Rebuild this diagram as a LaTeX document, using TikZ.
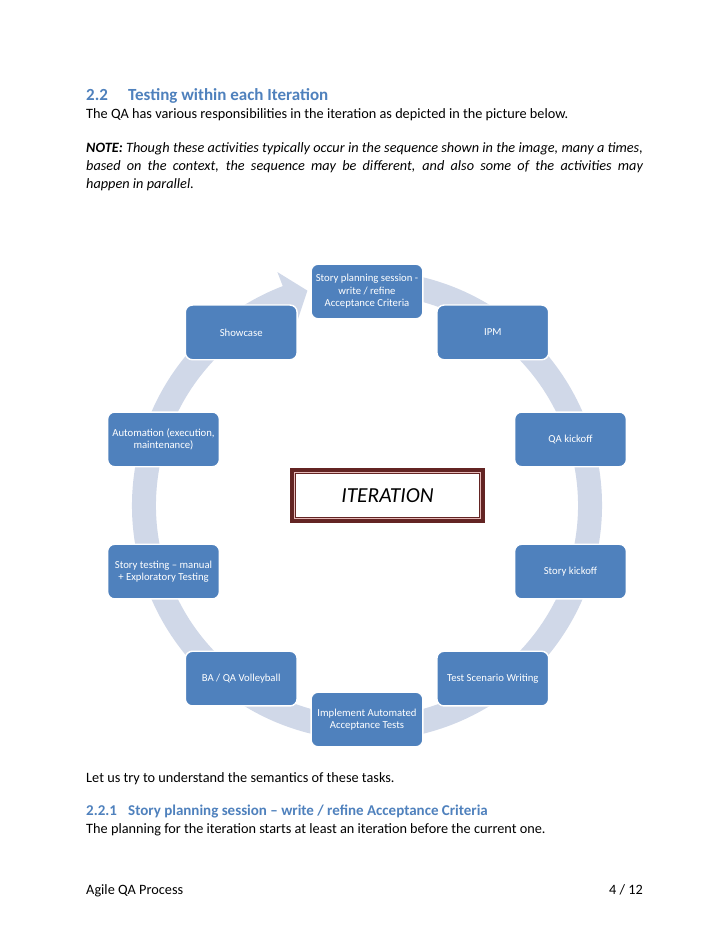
\documentclass[tikz,border=0pt]{standalone}
\usepackage{fontspec}
\setmainfont{Carlito}
\usepackage{xcolor}
\usepackage{tikz}
\definecolor{taskcolor}{HTML}{4F81BD}
\definecolor{ringcolor}{HTML}{D0D8E8}
\definecolor{headcolor}{HTML}{4F81BD}
\definecolor{iterdark}{HTML}{632423}
\definecolor{iterpink}{HTML}{E6B9B8}
\tikzset{task/.style={draw=white,line width=1.2pt,fill=taskcolor,rounded corners=6pt,minimum width=94pt,minimum height=46pt,inner sep=2pt,align=center,text=white,font=\fontsize{9}{10.5}\selectfont},itbox/.style={draw=iterdark,line width=.85pt,fill=white,minimum width=154.7pt,minimum height=37pt,inner sep=0pt,outer sep=0pt,font=\fontsize{18}{20}\selectfont\itshape},bodytext/.style={anchor=base west,inner sep=0pt,font=\fontsize{12}{15.1}\selectfont},headtext/.style={anchor=base west,inner sep=0pt,text=headcolor,font=\fontsize{14.3}{16}\selectfont\bfseries},subheadtext/.style={headtext,font=\fontsize{12.6}{14}\selectfont\bfseries}}

\begin{document}
\begin{tikzpicture}[x=.8407pt,y=.8407pt]
 \fill[white] (0,0) rectangle (728,943);

 \node[headtext] (h22) at (86,842) {\makebox[35.3pt][l]{2.2}Testing within each Iteration};
 \node[bodytext] (intro) at (86,824) {The QA has various responsibilities in the iteration as depicted in the picture below.};
 \node[bodytext,text width=468pt,align=justify] (note) at (86,790) {\textbf{\textit{NOTE:}} \textit{Though these activities typically occur in the sequence shown in the image, many a times,\linebreak based on the context, the sequence may be different, and also some of the activities may\linebreak happen in parallel.}};

 % continuous cycle arrow behind the tasks
 \begin{scope}[shift={(367,437.5)}]
  \fill[ringcolor] (80:235) arc[start angle=80,end angle=-249,radius=235] -- (111:250) -- (105.5:223) -- (111:196) -- (111:211) arc[start angle=111,end angle=440,radius=211] -- cycle;
 \end{scope}

 \node[task] (plan) at (367,651.5) {Story planning session -\\write / refine\\Acceptance Criteria};
 \node[task] (ipm) at (492.8,610.6) {IPM};
 \node[task] (qakick) at (570.5,503.6) {QA kickoff};
 \node[task] (storykick) at (570.5,371.4) {Story kickoff};
 \node[task] (scenario) at (492.8,264.4) {Test Scenario Writing};
 \node[task] (implement) at (367,223.5) {Implement Automated\\Acceptance Tests};
 \node[task] (volley) at (241.2,264.4) {BA / QA Volleyball};
 \node[task] (storytest) at (163.5,371.4) {Story testing – manual\\+ Exploratory Testing};
 \node[task] (automation) at (163.5,503.6) {Automation (execution,\\maintenance)};
 \node[task] (showcase) at (241.2,610.6) {Showcase};

 \node[itbox] (iteration) at (387.5,447.5) {ITERATION};
 \draw[iterpink,line width=.85pt] ([shift={(-1,1)}]iteration.north west) rectangle ([shift={(1,-1)}]iteration.south east);
 \draw[iterdark,line width=3.4pt] ([shift={(-3.5,3.5)}]iteration.north west) rectangle ([shift={(3.5,-3.5)}]iteration.south east);

 \node[bodytext] (semantics) at (86,160) {Let us try to understand the semantics of these tasks.};
 \node[subheadtext] (h221) at (86,127) {\makebox[35.3pt][l]{2.2.1}Story planning session – write / refine Acceptance Criteria};
 \node[bodytext] (planning) at (86,109) {The planning for the iteration starts at least an iteration before the current one.};

 \node[bodytext] (footer) at (86,48) {Agile QA Process};
 \node[bodytext,anchor=base east] (page) at (643,48) {4 / 12};
\end{tikzpicture}
\end{document}
